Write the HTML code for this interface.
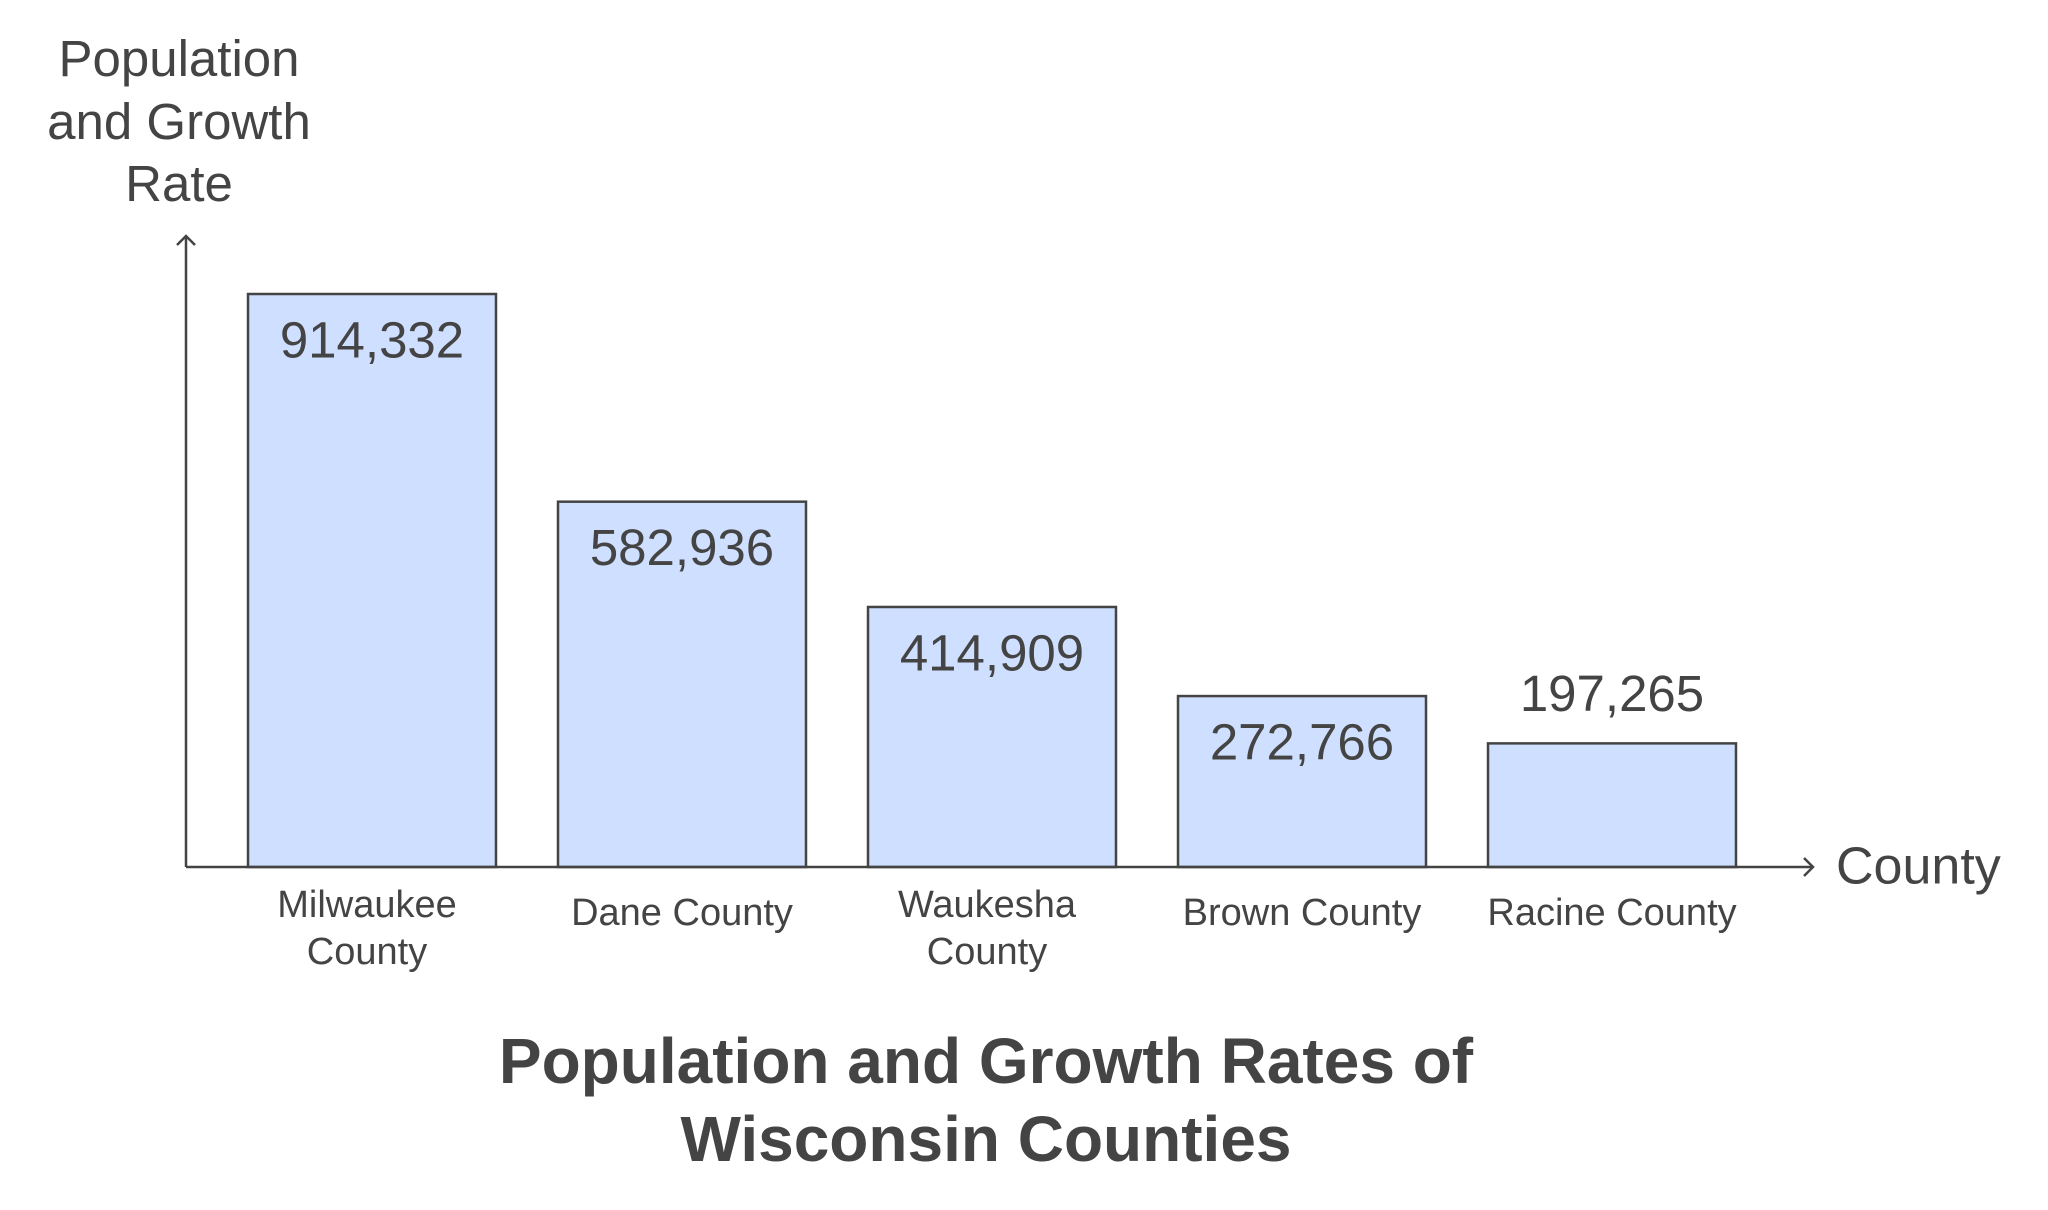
<!DOCTYPE html>
<html><head><meta charset="utf-8"><style>
html,body{margin:0;padding:0;background:#fff;}
svg{display:block;font-family:"Liberation Sans",Arial,sans-serif;}
</style></head><body>
<svg id="chart" width="2048" height="1210" viewBox="0 0 2048 1210">
<defs><marker id="arr" markerWidth="20" markerHeight="20" refX="10" refY="10" orient="auto" markerUnits="userSpaceOnUse"><path d="M1,1 L10,10 L1,19" fill="none" stroke="#444" stroke-width="2.5"/></marker></defs>
<g id="bars"></g>
<line x1="186" y1="867" x2="186" y2="236" stroke="#444" stroke-width="2.5" marker-end="url(#arr)"/>
<line x1="186" y1="867" x2="1813" y2="867" stroke="#444" stroke-width="2.5" marker-end="url(#arr)"/>
<text x="179" y="63" font-size="51" fill="#444" text-anchor="middle" dominant-baseline="middle"><tspan x="179" y="63">Population</tspan><tspan x="179" y="126">and Growth</tspan><tspan x="179" y="188">Rate</tspan></text>
<text x="1836" y="870" font-size="52" fill="#444" dominant-baseline="middle">County</text>
<text x="986" y="1066" font-size="64" font-weight="bold" fill="#444" text-anchor="middle" dominant-baseline="middle"><tspan x="986" y="1066">Population and Growth Rates of</tspan><tspan x="986" y="1144">Wisconsin Counties</tspan></text>
<g id="cats"></g>
</svg>
<script>
const categories=[["Milwaukee","County"],["Dane County"],["Waukesha","County"],["Brown County"],["Racine County"]];
const values=[914332,582936,414909,272766,197265];
const valueLabels=["914,332","582,936","414,909","272,766","197,265"];
const NS="http://www.w3.org/2000/svg";
const base=867, maxH=573, maxV=914332;
function y(v){return base-v/maxV*maxH;}
function x(i){return 248+i*310;}
const bw=248;
const bars=document.getElementById('bars'), cats=document.getElementById('cats');
values.forEach((v,i)=>{
  const r=document.createElementNS(NS,'rect');
  r.setAttribute('x',x(i));r.setAttribute('y',y(v));r.setAttribute('width',bw);r.setAttribute('height',base-y(v));
  r.setAttribute('fill','#cfdfff');r.setAttribute('stroke','#444');r.setAttribute('stroke-width','2.5');
  
  
  bars.appendChild(r);
  const h=base-y(v);
  const t=document.createElementNS(NS,'text');
  t.setAttribute('x',x(i)+bw/2);
  t.setAttribute('y',h>150?y(v)+50:y(v)-46);
  t.setAttribute('font-size','51');t.setAttribute('fill','#444');t.setAttribute('text-anchor','middle');t.setAttribute('dominant-baseline','middle');
  t.textContent=valueLabels[i];
  
  
  bars.appendChild(t);
  const c=document.createElementNS(NS,'text');
  c.setAttribute('font-size','38');c.setAttribute('fill','#444');c.setAttribute('text-anchor','middle');c.setAttribute('dominant-baseline','middle');
  
  
  const lines=categories[i];
  lines.forEach((l,j)=>{
    const s=document.createElementNS(NS,'tspan');
    s.setAttribute('x',x(i)+bw/2-(lines.length>1?5:0));
    s.setAttribute('y',lines.length>1?907+j*47:915);
    s.textContent=l;c.appendChild(s);
  });
  cats.appendChild(c);
});
</script>
</body></html>
